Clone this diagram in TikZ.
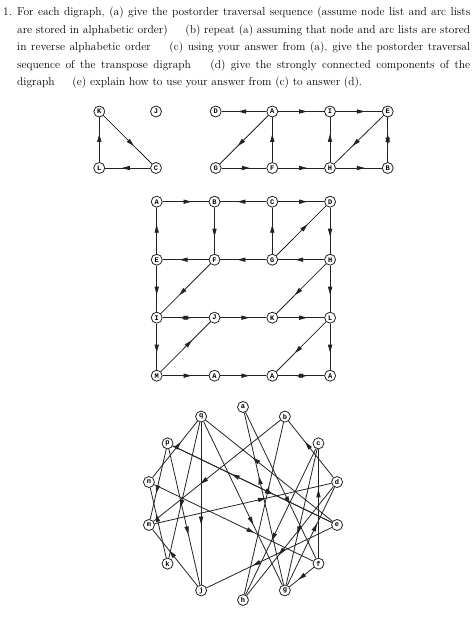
\documentclass[tikz,border=0pt]{standalone}
\usepackage{fontspec}
\newfontfamily\nodefont{Liberation Mono}
\usetikzlibrary{arrows.meta,decorations.markings}
\definecolor{cLine}{RGB}{35,35,35}

\begin{document}
\begin{tikzpicture}[x=1pt,y=-1pt,
        vtx/.style={circle,draw=cLine,line width=0.8pt,fill=white,minimum size=11pt,inner sep=0pt,
            font=\nodefont\bfseries\fontsize{7}{7}\selectfont},
        arcline/.style={draw=cLine,line width=0.8pt,postaction={decorate},
            decoration={markings,mark=at position #1 with {\arrow{Triangle[length=8pt,width=4.2pt]}}}},
        arcline/.default=0.63,
        txtline/.style={anchor=base west,inner sep=0pt,font=\fontsize{11.5}{14}\selectfont}]
        \useasboundingbox (0,0) rectangle (474,623);

        % question text
        \node[txtline] (num) at (3,16) {1.};
        \node[txtline] (line1) at (17,16) {\makebox[453pt][s]{For each digraph, (a) give the postorder traversal sequence (assume node list and arc lists}};
        \node[txtline] (line2) at (17,33.5) {\makebox[453pt][s]{are stored in alphabetic order)\hspace{14pt} (b) repeat (a) assuming that node and arc lists are stored}};
        \node[txtline] (line3) at (17,51) {\makebox[453pt][s]{in reverse alphabetic order\hspace{14pt} (c) using your answer from (a), give the postorder traversal}};
        \node[txtline] (line4) at (17,68.5) {\makebox[453pt][s]{sequence of the transpose digraph\hspace{14pt} (d) give the strongly connected components of the}};
        \node[txtline] (line5) at (17,86) {digraph\hspace{14pt} (e) explain how to use your answer from (c) to answer (d).};

        % first digraph
        \node[vtx] (sK) at (99.3,111.5) {K};
        \node[vtx] (sJ) at (156,111.5) {J};
        \node[vtx] (sL) at (99.3,168) {L};
        \node[vtx] (sC) at (156,168) {C};
        \foreach \s/\t in {sK/sC, sC/sL, sL/sK}
            \draw[arcline] (\s) -- (\t);

        % second digraph
        \foreach \n/\x in {D/215.7, A/272.3, I/330, E/387.7}
            \node[vtx] (w\n) at (\x,111.5) {\n};
        \foreach \n/\x in {G/215.7, F/272.3, H/330, B/387.7}
            \node[vtx] (w\n) at (\x,168) {\n};
        \foreach \s/\t in {wA/wD, wA/wI, wI/wE, wA/wG, wG/wF, wF/wA, wF/wH, wH/wI,
                wE/wH, wH/wB, wE/wB, wB/wE}
            \draw[arcline] (\s) -- (\t);

        % third digraph
        \foreach \n/\l [count=\i from 0] in {A/A, B/B, C/C, D/D, E/E, F/F, G/G, H/H,
                I/I, J/J, K/K, L/L, M/M, N/A, O/A, P/A}
            \node[vtx] (q\n) at ({156.7+57.8*mod(\i,4)},{201.7+58*div(\i,4)}) {\l};
        \foreach \s/\t in {qA/qB, qC/qB, qC/qD, qB/qF, qG/qC, qG/qD, qD/qH, qE/qA,
                qF/qE, qG/qF, qH/qG, qF/qI, qE/qI, qH/qK, qH/qL, qI/qJ, qJ/qI,
                qJ/qK, qK/qL, qI/qM, qM/qJ, qL/qO, qL/qP, qM/qN, qN/qO, qO/qP, qP/qO}
            \draw[arcline] (\s) -- (\t);

        % fourth digraph
        \begin{scope}[shift={(243,503.5)}]
            \foreach \v [count=\i from 0] in {a,b,c,d,e,f,g,h,j,k,m,n,p,q}
                \node[vtx] (\v) at ({-90+\i*360/14}:96.5) {\v};
        \end{scope}
        \foreach \s/\t in {a/f, g/a, b/m, h/b, d/b, f/c, c/g, c/h, m/d, g/d, d/h,
                e/q, p/e, e/p, e/j, n/f, f/g, q/g, q/j, p/j, j/m, q/k, k/n, p/m, n/q}
            \draw[arcline] (\s) -- (\t);
    \end{tikzpicture}
\end{document}
